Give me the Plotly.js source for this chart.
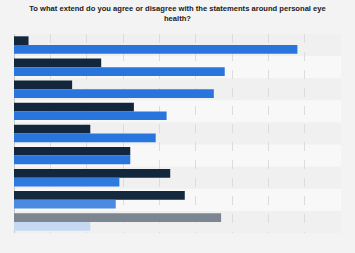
<!DOCTYPE html>
<html>
<head>
<meta charset="utf-8">
<script src="https://cdn.plot.ly/plotly-3.0.1.min.js"></script>
<style>
html,body{margin:0;padding:0;background:#f3f3f3;}
#chart{width:355px;height:253px;}
</style>
</head>
<body>
<div id="chart"></div>
<script>
// Data (statement texts are not legible in the reference)
const statements = ["Statement 1","Statement 2","Statement 3","Statement 4","Statement 5","Statement 6","Statement 7","Statement 8","Statement 9"];
const seriesA = [4, 24, 16, 33, 21, 32, 43, 47, 57];
const seriesB = [78, 58, 55, 42, 39, 32, 29, 28, 21];
const seriesAColors = ["#12263d","#12263d","#12263d","#12263d","#12263d","#12263d","#12263d","#15293f","#7c8691"];
const seriesBColors = ["#2876dd","#2876dd","#2876dd","#2876dd","#2876dd","#2876dd","#2f7ade","#4a8ae2","#c6d9f3"];

const traces = [
  {type:"bar", orientation:"h", name:"A", y:statements, x:seriesA,
   marker:{color:seriesAColors, line:{width:0}}, hoverinfo:"x"},
  {type:"bar", orientation:"h", name:"B", y:statements, x:seriesB,
   marker:{color:seriesBColors, line:{width:0}}, hoverinfo:"x"}
];

const shapes = statements.map((s,i)=>({
  type:"rect", xref:"paper", yref:"y", layer:"below",
  x0:0, x1:1, y0:i-0.5, y1:i+0.5,
  fillcolor: i%2===0 ? "#f0f0f0" : "#f8f8f8", line:{width:0}
}));

const layout = {
  width:355, height:253,
  margin:{l:14, r:14, t:34, b:20, pad:0},
  paper_bgcolor:"#f3f3f3", plot_bgcolor:"#f1f1f1",
  showlegend:false,
  barmode:"group", bargap:0.21, bargroupgap:0,
  title:{text:"To what extend do you agree or disagree with the statements around personal eye<br>health?",
         x:0.5, xanchor:"center", yref:"container", y:0.958, yanchor:"middle",
         font:{family:"Liberation Sans, Arial, sans-serif", size:7.6, color:"#1a1a1a", weight:"bold"}},
  xaxis:{range:[0,90], dtick:10, showticklabels:false, ticks:"",
         showgrid:true, gridcolor:"#dcdcdc", gridwidth:1, griddash:"dash",
         zeroline:true, zerolinecolor:"#c8c8c8", zerolinewidth:1, showline:false, fixedrange:true},
  yaxis:{type:"category", autorange:"reversed", showticklabels:false, ticks:"",
         showgrid:false, zeroline:false, showline:false, fixedrange:true},
  shapes:shapes
};

Plotly.newPlot("chart", traces, layout, {displayModeBar:false, staticPlot:true});
</script>
</body>
</html>
